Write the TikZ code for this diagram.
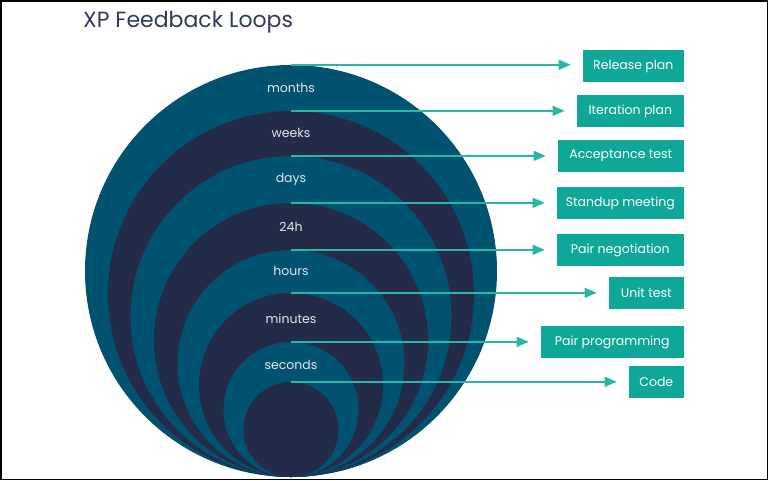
\documentclass[tikz,border=0pt]{standalone}
\usepackage{fontspec}
\setmainfont{Poppins}
\usetikzlibrary{arrows.meta}
\definecolor{navy}{HTML}{232B49}
\definecolor{petrol}{HTML}{00526F}
\definecolor{boxteal}{HTML}{0FA898}
\definecolor{arrteal}{HTML}{2BB5A5}
\definecolor{titlecol}{HTML}{2F3B5E}
\definecolor{lbl}{HTML}{E2E8EC}
\begin{document}
\begin{tikzpicture}[x=1pt,y=-1pt,
  ring/.style={circle,inner sep=0pt,draw=none},
  lab/.style={text=lbl,font=\fontsize{12.5}{14}\selectfont},
  tbox/.style={fill=boxteal,text=white,anchor=east,minimum height=32pt,inner sep=0pt,font=\fontsize{12.5}{14}\selectfont},
  arr/.style={draw=arrteal,line width=1.5pt,-{Triangle[length=12pt,width=10pt]},shorten >=12pt}]
\useasboundingbox (0,0) rectangle (768,480);
\fill[white] (0,0) rectangle (768,480);
% circles (all tangent at bottom y=477)
\node[ring,fill=petrol,minimum size=412pt] (c1) at (291,271) {};
\node[ring,fill=navy,minimum size=366pt] (c2) at (291,294) {};
\node[ring,fill=petrol,minimum size=321pt] (c3) at (291,316.5) {};
\node[ring,fill=navy,minimum size=274pt] (c4) at (291,340) {};
\node[ring,fill=petrol,minimum size=227pt] (c5) at (291,363.5) {};
\node[ring,fill=navy,minimum size=184pt] (c6) at (291,385) {};
\node[ring,fill=petrol,minimum size=135pt] (c7) at (291,409.5) {};
\node[ring,fill=navy,minimum size=95pt] (c8) at (291,429.5) {};
% labels
\node[lab] (l1) at (291,88) {months};
\node[lab] (l2) at (291,133) {weeks};
\node[lab] (l3) at (291,179.5) {days};
\node[lab] (l4) at (291,226.5) {24h};
\node[lab] (l5) at (291,270.5) {hours};
\node[lab] (l6) at (291,318.5) {minutes};
\node[lab] (l7) at (291,364.5) {seconds};
% boxes
\node[tbox,minimum width=101pt] (b1) at (684,66) {Release plan};
\node[tbox,minimum width=107pt] (b2) at (684,111) {Iteration plan};
\node[tbox,minimum width=126pt] (b3) at (684,156) {Acceptance test};
\node[tbox,minimum width=127pt] (b4) at (684,203) {Standup meeting};
\node[tbox,minimum width=127pt] (b5) at (684,250) {Pair negotiation};
\node[tbox,minimum width=75pt] (b6) at (684,293) {Unit test};
\node[tbox,minimum width=143pt] (b7) at (684,342) {Pair programming};
\node[tbox,minimum width=55pt] (b8) at (684,382) {Code};
% arrows
\draw[arr] (c1.north) -- (c1.north -| b1.west);
\draw[arr] (c2.north) -- (c2.north -| b2.west);
\draw[arr] (c3.north) -- (c3.north -| b3.west);
\draw[arr] (c4.north) -- (c4.north -| b4.west);
\draw[arr] (c5.north) -- (c5.north -| b5.west);
\draw[arr] (c6.north) -- (c6.north -| b6.west);
\draw[arr] (c7.north) -- (c7.north -| b7.west);
\draw[arr] (c8.north) -- (c8.north -| b8.west);
% title
\node[anchor=base west,text=titlecol,inner sep=0pt,font=\fontsize{22}{26}\selectfont] (title) at (83,27) {XP Feedback Loops};
% frame
\draw[black,line width=1.5pt] (0.75,0.75) rectangle (767.25,479.25);
\end{tikzpicture}
\end{document}
